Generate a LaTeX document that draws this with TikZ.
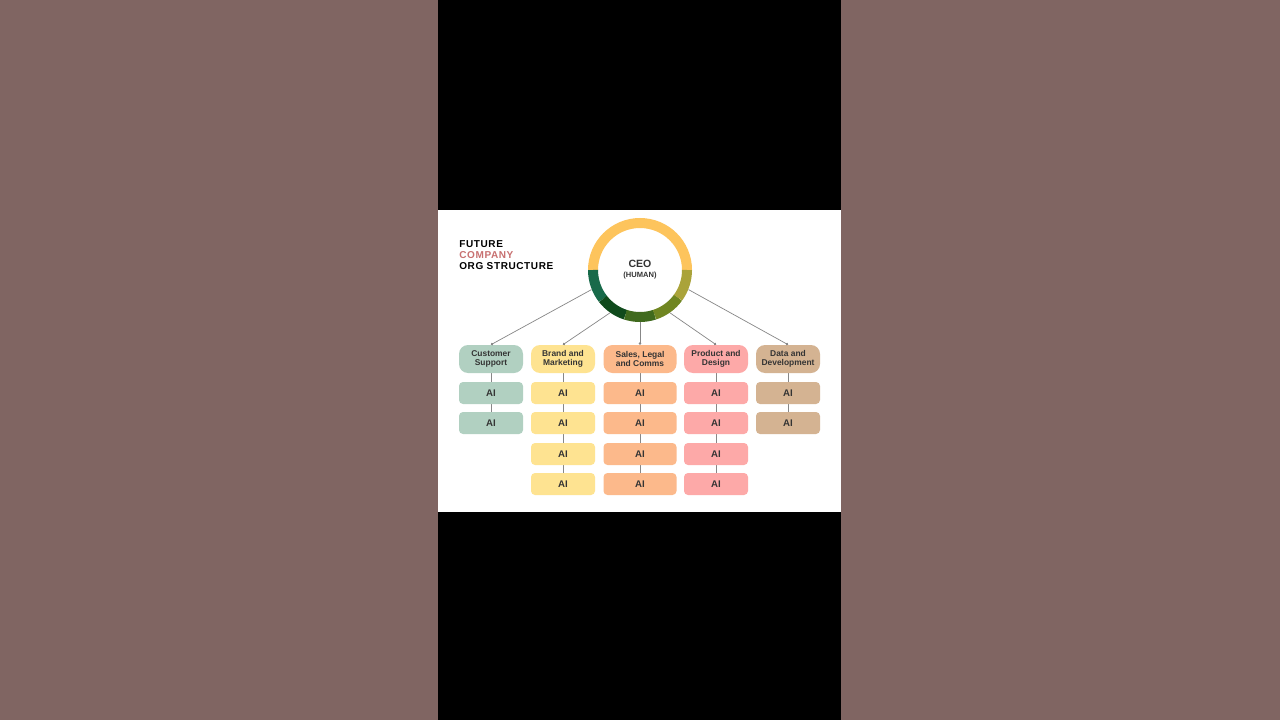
\documentclass[tikz,border=0pt]{standalone}
\usepackage{fontspec}
\setmainfont{Liberation Sans}
\newfontfamily\titlefont[LetterSpace=6]{Liberation Sans}
\usetikzlibrary{arrows.meta}

\definecolor{sidebg}{RGB}{128,101,98}
\definecolor{txtgray}{RGB}{52,52,52}
\definecolor{linegray}{RGB}{135,135,135}
\definecolor{titlered}{RGB}{200,112,112}
\definecolor{ringyellow}{RGB}{253,196,92}
\definecolor{ringteal}{RGB}{24,106,74}
\definecolor{ringdark}{RGB}{16,74,28}
\definecolor{ringmid}{RGB}{64,106,30}
\definecolor{ringolive}{RGB}{112,134,34}
\definecolor{ringlime}{RGB}{170,163,58}
\definecolor{sage}{RGB}{177,208,193}
\definecolor{butter}{RGB}{254,227,145}
\definecolor{peach}{RGB}{252,185,139}
\definecolor{rose}{RGB}{253,169,168}
\definecolor{tan}{RGB}{212,179,146}

\pgfdeclarelayer{back}
\pgfdeclarelayer{wires}
\pgfsetlayers{back,wires,main}

\begin{document}
\begin{tikzpicture}[x=0.02cm, y=-0.02cm,
    dept/.style={rounded corners=0.18cm, minimum width=1.28cm, minimum height=0.56cm,
        inner sep=0pt, align=center, text=txtgray,
        font=\fontsize{4.8}{5.4}\selectfont\bfseries},
    aibox/.style={rounded corners=0.08cm, minimum width=1.28cm, minimum height=0.44cm,
        inner sep=0pt, text=txtgray, font=\fontsize{5.5}{6}\selectfont\bfseries},
    link/.style={draw=linegray, line width=0.4pt},
    ringseg/.style={line width=0.2cm}]

    \useasboundingbox (0,0) rectangle (1280,720);
    \begin{pgfonlayer}{back}
        \fill[sidebg] (0,0) rectangle (1280,720);
        \fill[black] (438,0) rectangle (841,720);
        \fill[white] (438,210) rectangle (841,512);
    \end{pgfonlayer}

    \node[anchor=west, align=left, inner sep=0pt,
        font=\titlefont\fontsize{5.7}{6.2}\selectfont\bfseries] (title) at (459,255)
        {FUTURE\\\textcolor{titlered}{COMPANY}\\ORG STRUCTURE};

    % ceo ring
    \node[circle, minimum size=2.08cm, inner sep=0pt, align=center, text=txtgray,
        font=\fontsize{6}{5.6}\selectfont\bfseries] (ceo) at (640,270)
        {CEO\\{\fontsize{4.3}{5}\selectfont (HUMAN)}};
    \draw[ringseg, ringyellow] (640,270) ++(0:47) arc[start angle=0, end angle=-180, radius=47];
    \draw[ringseg, ringteal] (640,270) ++(142:47) arc[start angle=142, end angle=180, radius=47];
    \draw[ringseg, ringdark] (640,270) ++(108:47) arc[start angle=108, end angle=142, radius=47];
    \draw[ringseg, ringmid] (640,270) ++(72:47) arc[start angle=72, end angle=108, radius=47];
    \draw[ringseg, ringolive] (640,270) ++(36:47) arc[start angle=36, end angle=72, radius=47];
    \draw[ringseg, ringlime] (640,270) ++(0:47) arc[start angle=0, end angle=36, radius=47];

    % departments
    \node[dept, fill=sage] (cs) at (491,359) {Customer\\Support};
    \node[dept, fill=butter] (bm) at (563,359) {Brand and\\Marketing};
    \node[dept, fill=peach, minimum width=1.46cm] (slc) at (640,359) {Sales, Legal\\and Comms};
    \node[dept, fill=rose] (pd) at (716,359) {Product and\\Design};
    \node[dept, fill=tan] (dd) at (788,359) {Data and\\Development};

    \node[aibox, fill=sage] (cs1) at (491,393) {AI};
    \node[aibox, fill=sage] (cs2) at (491,423) {AI};

    \node[aibox, fill=butter] (bm1) at (563,393) {AI};
    \node[aibox, fill=butter] (bm2) at (563,423) {AI};
    \node[aibox, fill=butter] (bm3) at (563,454) {AI};
    \node[aibox, fill=butter] (bm4) at (563,484) {AI};

    \node[aibox, fill=peach, minimum width=1.46cm] (slc1) at (640,393) {AI};
    \node[aibox, fill=peach, minimum width=1.46cm] (slc2) at (640,423) {AI};
    \node[aibox, fill=peach, minimum width=1.46cm] (slc3) at (640,454) {AI};
    \node[aibox, fill=peach, minimum width=1.46cm] (slc4) at (640,484) {AI};

    \node[aibox, fill=rose] (pd1) at (716,393) {AI};
    \node[aibox, fill=rose] (pd2) at (716,423) {AI};
    \node[aibox, fill=rose] (pd3) at (716,454) {AI};
    \node[aibox, fill=rose] (pd4) at (716,484) {AI};

    \node[aibox, fill=tan] (dd1) at (788,393) {AI};
    \node[aibox, fill=tan] (dd2) at (788,423) {AI};

    % ceo to departments
    \draw[link, -{Circle[length=1.4pt]}] (ceo.202) -- (cs.north);
    \draw[link, -{Circle[length=1.4pt]}] (ceo.235) -- (bm.north);
    \draw[link, -{Circle[length=1.4pt]}] (ceo.270) -- (slc.north);
    \draw[link, -{Circle[length=1.4pt]}] (ceo.305) -- (pd.north);
    \draw[link, -{Circle[length=1.4pt]}] (ceo.338) -- (dd.north);

    \begin{pgfonlayer}{wires}
        \draw[link] (cs) -- (cs2);
        \draw[link] (bm) -- (bm4);
        \draw[link] (slc) -- (slc4);
        \draw[link] (pd) -- (pd4);
        \draw[link] (dd) -- (dd2);
    \end{pgfonlayer}

\end{tikzpicture}
\end{document}
